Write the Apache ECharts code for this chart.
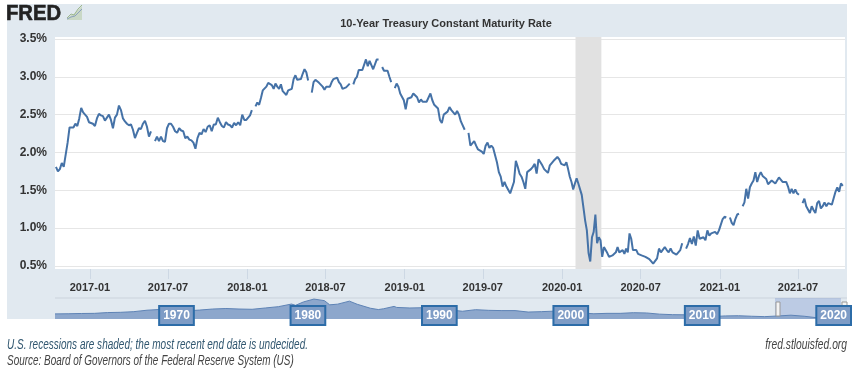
<!DOCTYPE html>
<html><head><meta charset="utf-8">
<style>html,body{margin:0;padding:0;background:#fff}#c{width:855px;height:369px}</style>
<script src="https://cdn.jsdelivr.net/npm/echarts@6/dist/echarts.min.js"></script>
</head><body><div id="c"></div>
<script>
const titleText = '10-Year Treasury Constant Maturity Rate';
const noteRecession = 'U.S. recessions are shaded; the most recent end date is undecided.';
const noteSource = 'Source: Board of Governors of the Federal Reserve System (US)';
const noteSite = 'fred.stlouisfed.org';
const yTicks = [0.5, 1.0, 1.5, 2.0, 2.5, 3.0, 3.5];
const xTicks = ['2017-01','2017-07','2018-01','2018-07','2019-01','2019-07','2020-01','2020-07','2021-01','2021-07'];
const recession = ['2020-02-01', '2020-04-01'];
const periodBounds = ['2016-10-12','2017-01-01','2017-07-01','2018-01-01','2018-07-01','2019-01-01','2019-07-01','2020-01-01','2020-07-01','2021-01-01','2021-07-01','2021-10-15'];

const p2016 = [1.81,1.75,1.78,1.86,1.81,1.79,2.13,2.33,2.34,2.33,2.38,2.35,2.45,2.59,2.53,2.55,2.47,2.40];
const p2017a = [2.39,2.38,2.35,2.45,2.51,2.49,2.48,2.42,2.46,2.50,2.43,2.32,2.46,2.50,2.62,2.56,2.45,2.41,2.38,2.36,2.37,2.30,2.19,2.26,2.32,2.31,2.38,2.42,2.34,2.21,2.28,null,2.15,2.21,2.15,2.21,2.15,2.14,2.32];
const p2017b = [2.38,2.38,2.34,2.28,2.26,2.32,2.29,2.28,2.19,2.21,2.17,2.16,2.13,2.05,2.19,2.26,2.24,2.31,2.27,2.34,2.36,2.28,2.37,2.37,2.46,2.40,2.35,2.33,2.40,2.37,2.36,2.33,2.39,2.36,2.40,2.36,2.50,2.43,2.43];
const p2018a = [2.44,2.49,2.56,null,2.61,2.66,2.63,2.72,2.82,2.80,2.87,2.92,2.93,2.89,2.84,2.91,2.87,2.84,2.90,2.81,2.79,2.76,2.82,2.83,2.84,2.97,3.02,2.96,2.95,2.97,3.04,3.10,3.06,2.95,null,2.79,2.93,2.96,2.97,2.92,2.91,2.87,2.83];
const p2018b = [2.87,2.86,2.87,2.93,2.97,2.98,2.99,2.93,2.90,2.84,2.83,2.86,2.86,2.91,null,2.90,2.97,3.00,3.09,3.07,3.09,3.08,3.23,3.14,3.21,3.19,3.10,3.12,3.23,3.23,null,3.13,3.08,3.07,3.08,3.00,2.93,null,2.85,2.91,2.87,2.78,2.78,2.69];
const p2019a = [2.57,2.71,2.73,2.73,2.78,2.77,2.73,2.66,2.70,2.67,2.66,2.67,2.69,2.78,2.69,2.63,2.61,2.58,2.43,2.39,2.50,2.52,2.54,2.60,2.56,2.54,2.50,2.55,2.50,2.41,2.41,2.30,null,2.26,2.09,2.11,2.15,2.09,2.04,2.03,2.01];
const p2019b = [1.98,2.09,2.13,2.06,2.09,2.06,2.04,1.87,1.74,1.68,1.55,1.61,1.55,1.53,1.46,1.48,1.61,1.89,1.81,1.72,1.68,1.61,1.52,1.74,1.74,1.78,1.81,1.85,1.72,1.91,1.92,1.83,1.78,1.76,1.73,1.83,1.85,1.89,1.91,1.94,1.91,1.85];
const p2020a = [1.86,1.83,1.87,1.78,1.68,1.61,1.51,1.59,1.66,1.59,1.57,1.44,1.27,1.10,0.97,0.67,0.56,0.88,0.95,1.18,0.80,0.88,0.84,0.62,0.75,0.77,0.67,0.62,0.60,0.64,0.66,0.68,0.75,0.68,0.66,0.71,0.66,0.73,0.68,0.93,0.86,0.71,0.73,0.71,0.66,0.68];
const p2020b = [0.64,0.65,0.62,0.62,0.59,0.57,0.53,0.55,0.60,0.73,0.68,0.66,0.75,0.71,0.68,0.73,0.68,0.68,0.65,0.66,0.71,0.80,null,0.73,0.79,0.87,0.79,0.89,0.77,0.97,0.86,0.84,0.88,0.84,0.97,0.90,0.93,0.92,0.95,0.92,0.97];
const p2021a = [0.99,1.12,1.15,1.14,null,1.14,1.07,1.04,1.12,1.18,1.19,null,1.29,1.34,1.52,1.39,1.54,1.59,1.63,1.74,1.61,1.69,1.74,1.69,1.68,1.65,1.58,1.58,1.63,1.63,1.59,1.63,1.67,1.66,1.61,1.59,1.61,1.55,1.46,1.52,1.46,1.51,1.46];
const p2021b = [1.44,null,1.33,1.39,1.29,1.31,1.20,1.29,1.24,1.20,1.33,1.36,1.26,1.29,1.34,1.29,1.33,1.35,1.31,1.31,1.48,1.54,1.48,1.59,1.56];
const periods = [p2016,p2017a,p2017b,p2018a,p2018b,p2019a,p2019b,p2020a,p2020b,p2021a,p2021b];

const navYears = [1962,1963,1964,1965,1966,1967,1968,1969,1970,1971,1972,1973,1974,1975,1976,1977,1978,1979,1980,1980.3,1980.9,1981.7,1982.5,1982.9,1983.5,1984.4,1985,1986,1986.6,1987,1987.8,1988,1989,1990,1991,1992,1993,1994,1995,1996,1997,1998,1999,2000,2001,2002,2003,2004,2005,2006,2007,2008,2009,2010,2011,2012,2013,2014,2015,2016,2017,2018,2019,2020,2021.8];
const navValues = [3.9,4.0,4.2,4.3,4.9,5.1,5.6,6.7,7.3,6.2,6.2,6.8,7.6,8.0,7.6,7.4,8.4,9.4,11.4,10.4,13.0,15.2,14.0,10.8,11.3,13.6,11.2,8.2,7.2,7.8,9.6,8.8,8.4,8.6,7.9,7.0,5.9,7.1,6.6,6.4,6.4,5.3,5.6,6.0,5.0,4.6,4.0,4.3,4.3,4.8,4.6,3.7,3.3,3.2,2.8,1.8,2.35,2.5,2.1,1.8,2.3,2.9,2.1,0.9,1.4];
const navDecades = [1970,1980,1990,2000,2010,2020];
const navSelection = [2016.78, 2021.8];

const ts = s => { const [y,m,d] = s.split('-').map(Number); return new Date(y, m-1, d||1).getTime(); };
const lineData = [];
periods.forEach((vals,k)=>{
  const a = ts(periodBounds[k]), b = ts(periodBounds[k+1]);
  vals.forEach((v,i)=>{ lineData.push([a + (b-a)*(i+0.5)/vals.length, v]); });
});
const navData = navYears.map((y,i)=>[y,navValues[i]]);

const PANEL='#E1E9F0', SANS='"Liberation Sans",sans-serif';
const chart = echarts.init(document.getElementById('c'),null,{renderer:'canvas'});
chart.setOption({
  animation:false,
  backgroundColor:'#fff',
  title:{text:titleText,left:441,top:13,textAlign:'center',textStyle:{fontFamily:SANS,fontSize:11,fontWeight:'bold',color:'#333'}},
  grid:[
    {left:55,top:37,width:790,height:232,show:true,backgroundColor:'#fff',borderWidth:0},
    {left:55,top:298,width:790,height:21,show:false}
  ],
  xAxis:[
    {type:'value',gridIndex:0,min:ts(periodBounds[0]),max:ts(periodBounds[11])+86400000*3,
     axisLine:{show:false},splitLine:{show:false},
     axisTick:{show:true,length:10,lineStyle:{color:'#CDD8E4',width:1},customValues:xTicks.map(ts)},
     axisLabel:{customValues:xTicks.map(ts),formatter:v=>{const d=new Date(v);return d.getFullYear()+'-'+String(d.getMonth()+1).padStart(2,'0');},
       color:'#333',fontFamily:SANS,fontSize:11,fontWeight:'bold',margin:13,hideOverlap:false}},
    {type:'value',gridIndex:1,min:1962,max:2021.8,z:10,
     axisLine:{show:false},axisTick:{show:false},splitLine:{show:false},
     axisLabel:{customValues:navDecades,align:'left',margin:-12,hideOverlap:false,
       formatter:v=>String(v),color:'#fff',fontFamily:SANS,fontSize:12,fontWeight:'bold',
       backgroundColor:'#7E9CC6',borderColor:'#2C6CA8',borderWidth:2,padding:[3,3,2,3]}}
  ],
  yAxis:[
    {type:'value',gridIndex:0,min:0.46,max:3.526,
     axisLine:{show:false},
     axisTick:{show:false,customValues:yTicks},
     splitLine:{show:true,lineStyle:{color:'#E6E6E6',width:1}},
     axisLabel:{customValues:yTicks,formatter:v=>v.toFixed(1)+'%',color:'#333',fontFamily:SANS,fontSize:12,fontWeight:'bold',margin:8,hideOverlap:false}},
    {type:'value',gridIndex:1,min:0,max:16,show:false}
  ],
  series:[
    {type:'line',xAxisIndex:0,yAxisIndex:0,data:lineData,showSymbol:false,connectNulls:false,
     lineStyle:{color:'#4572A7',width:2},z:3,
     markArea:{silent:true,itemStyle:{color:'#E1E1E1'},data:[[{xAxis:ts(recession[0])},{xAxis:ts(recession[1])}]]}},
    {type:'line',xAxisIndex:1,yAxisIndex:1,data:navData,showSymbol:false,
     lineStyle:{color:'#5E83B5',width:1},areaStyle:{color:'#8DA7CC',opacity:1},z:2,
     markArea:{silent:true,itemStyle:{color:'rgba(80,115,190,0.25)'},data:[[{xAxis:navSelection[0],yAxis:0},{xAxis:navSelection[1],yAxis:16}]]}}
  ],
  graphic:[
    {type:'rect',z:-10,silent:true,shape:{x:7,y:4,width:840,height:315},style:{fill:PANEL}},
    {type:'line',z:1,silent:true,shape:{x1:55,y1:298,x2:847,y2:298},style:{stroke:'#CBD3DC',lineWidth:1}},
    {type:'text',z:20,x:6,y:3,scaleX:0.92,style:{text:'FRED',fontFamily:SANS,fontWeight:'bold',fontSize:22,fill:'#222',stroke:'#222',lineWidth:0.6}},
    {type:'polygon',z:20,silent:true,shape:{points:[[67,19],[71,15],[74,14],[78,10],[82,6],[82,20],[67,20]]},style:{fill:'#C9D8C6'}},
    {type:'polyline',z:21,silent:true,shape:{points:[[67,18],[71,14],[74,15],[78,9],[82,5]]},style:{stroke:'#9DB88F',lineWidth:1,fill:null}},
    {type:'polyline',z:21,silent:true,shape:{points:[[67,19],[71,17],[75,16],[78,13],[82,9]]},style:{stroke:'#8AA0BC',lineWidth:1,fill:null}},
    {type:'rect',z:20,silent:true,shape:{x:776,y:302,width:4,height:14},style:{fill:'#F4F4F4',stroke:'#999',lineWidth:1}},
    {type:'rect',z:5,silent:true,shape:{x:842,y:302,width:5,height:5},style:{fill:'#F4F4F4',stroke:'#999',lineWidth:1}},
    {type:'text',z:20,x:7,y:338,scaleX:0.715,style:{text:noteRecession,fontFamily:SANS,fontStyle:'italic',fontSize:14,fill:'#30566F'}},
    {type:'text',z:20,x:7,y:354,scaleX:0.71,style:{text:noteSource,fontFamily:SANS,fontStyle:'italic',fontSize:14,fill:'#444'}},
    {type:'text',z:20,x:847,y:338,scaleX:0.735,style:{text:noteSite,align:'right',fontFamily:SANS,fontStyle:'italic',fontSize:14,fill:'#444'}}
  ]
});
</script></body></html>
